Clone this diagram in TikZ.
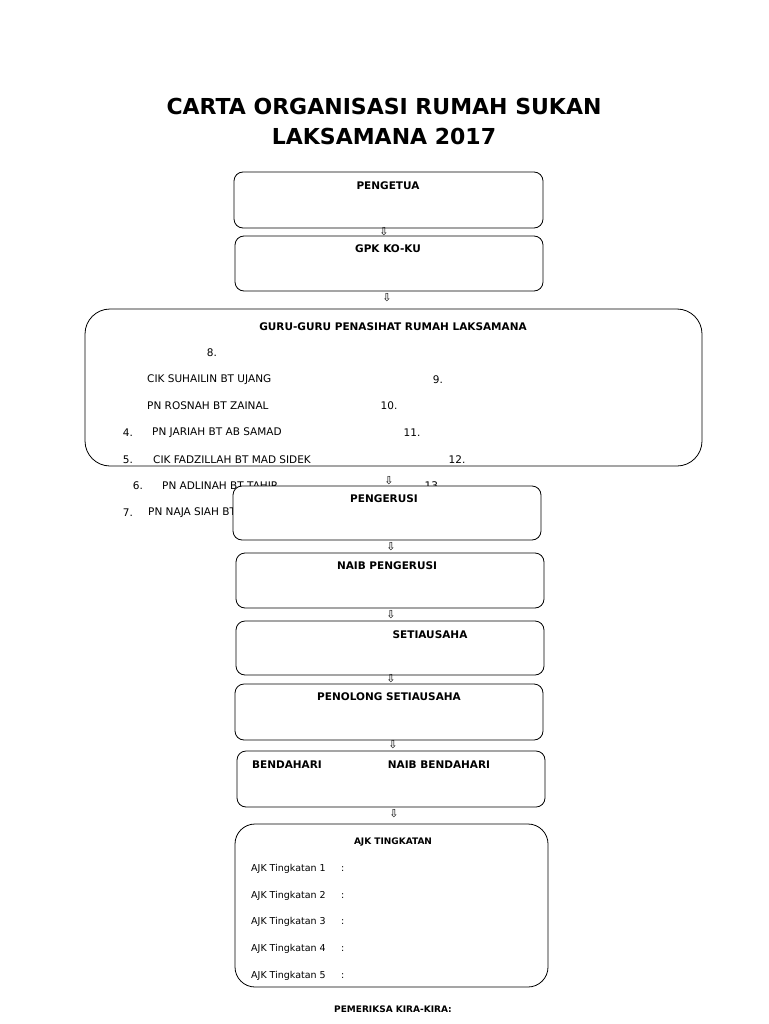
\documentclass[tikz,border=0pt]{standalone}
\usepackage{fontspec}
\setmainfont{DejaVu Sans}
\begin{document}
\begin{tikzpicture}[x=1pt,y=-1pt,
  box/.style={draw,rounded corners=9pt,fill=white,line width=0.8pt},
  t/.style={font=\fontsize{10.5}{12}\selectfont,inner sep=0pt},
  tb/.style={font=\fontsize{10.5}{12}\selectfont\bfseries,inner sep=0pt},
  ta/.style={font=\fontsize{9.5}{11}\selectfont,inner sep=0pt,anchor=west},
  arr/.style={font=\fontsize{11}{11}\selectfont,inner sep=0pt}]
\useasboundingbox (0,0) rectangle (768,1024);
\node[font=\fontsize{22}{26}\selectfont\bfseries,align=center] (title) at (384,121) {CARTA ORGANISASI RUMAH SUKAN\\[4pt]LAKSAMANA 2017};
% big box
\draw[box,rounded corners=25pt] (85,309) rectangle (702,466);
\node[tb] (gg) at (393,327) {GURU-GURU PENASIHAT RUMAH LAKSAMANA};
\node[t] (n8) at (212,353) {8.};
\node[t,anchor=west] (l1) at (147,380) {CIK SUHAILIN BT UJANG};
\node[t] (n9) at (438,380) {9.};
\node[t,anchor=west] (l2) at (147,406) {PN ROSNAH BT ZAINAL};
\node[t] (n10) at (389,406) {10.};
\node[t] (n4) at (128,433) {4.};
\node[t,anchor=west] (l4) at (152,433) {PN JARIAH BT AB SAMAD};
\node[t] (n11) at (412,433) {11.};
\node[t] (n5) at (128,460) {5.};
\node[t,anchor=west] (l5) at (153,460) {CIK FADZILLAH BT MAD SIDEK};
\node[t] (n12) at (457,460) {12.};
\node[t] (n6) at (138,486) {6.};
\node[t,anchor=west] (l6) at (162,486) {PN ADLINAH BT TAHIR};
\node[t] (n13) at (433,486) {13.};
\node[t] (n7) at (128,513) {7.};
\node[t,anchor=west] (l7) at (148,513) {PN NAJA SIAH BT};
% boxes
\draw[box] (234,172) rectangle (543,228);
\node[tb] (p1) at (388,186) {PENGETUA};
\draw[box] (235,236) rectangle (543,291);
\node[tb] (p2) at (388,249) {GPK KO-KU};
\draw[box] (233,486) rectangle (541,540);
\node[tb] (p3) at (384,499) {PENGERUSI};
\draw[box] (236,553) rectangle (544,608);
\node[tb] (p4) at (387,566) {NAIB PENGERUSI};
\draw[box] (236,621) rectangle (544,675);
\node[tb] (p5) at (430,635) {SETIAUSAHA};
\draw[box] (235,684) rectangle (543,740);
\node[tb] (p6) at (389,697) {PENOLONG SETIAUSAHA};
\draw[box] (237,751) rectangle (545,807);
\node[tb] (p7a) at (287,765) {BENDAHARI};
\node[tb] (p7b) at (439,765) {NAIB BENDAHARI};
\draw[box,rounded corners=20pt] (235,824) rectangle (548,987);
\node[tb,font=\fontsize{9}{11}\selectfont\bfseries] (p8) at (393,842) {AJK TINGKATAN};
\foreach \i/\y in {1/869,2/896,3/922,4/949,5/976}{
  \node[ta] (a\i) at (251,\y) {AJK Tingkatan \i};
  \node[ta] (c\i) at (341,\y) {:};
}
\node[tb,font=\fontsize{9}{11}\selectfont\bfseries] (foot) at (393,1009) {PEMERIKSA KIRA-KIRA:};
% arrows
\foreach \x/\y/\n in {384/232/r1,387/298/r2,389/481/r3,391/547/r4,391/615/r5,391/679/r6,393/745/r7,394/814/r8}{
  \node[arr] (\n) at (\x,\y) {⇩};
}
\end{tikzpicture}
\end{document}
